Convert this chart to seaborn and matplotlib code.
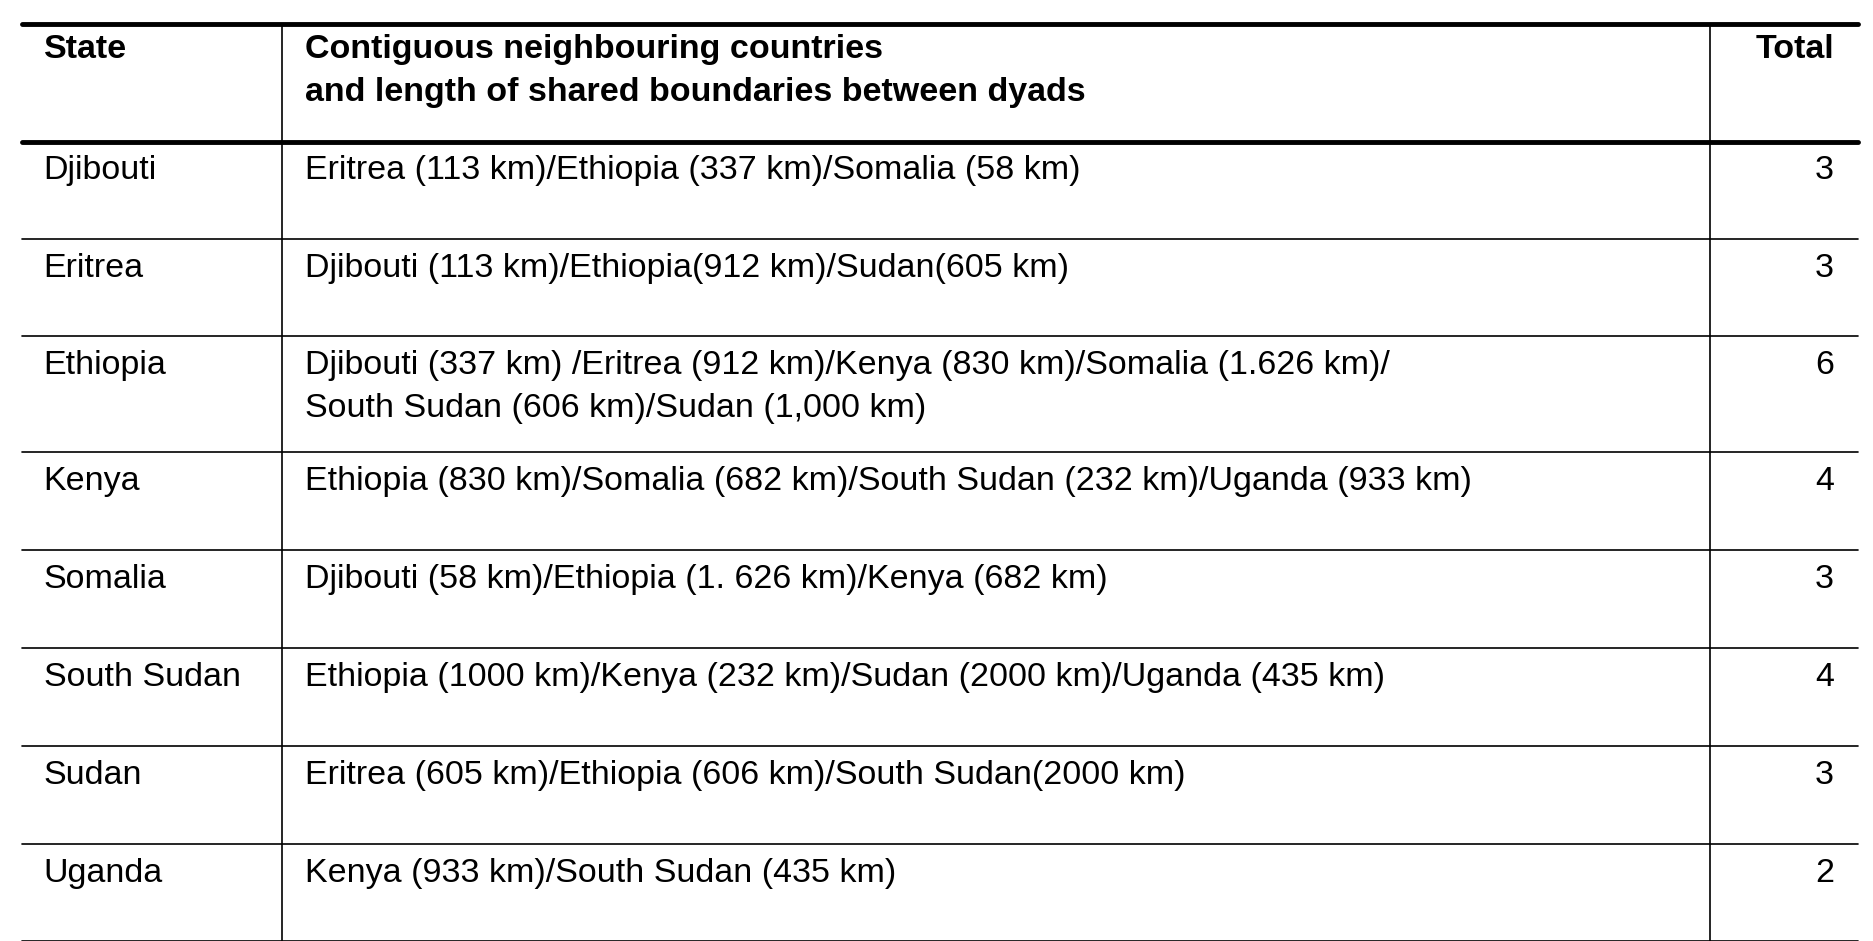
import matplotlib
matplotlib.use("Agg")
import matplotlib.pyplot as plt
import seaborn as sns

sns.set_theme(style="white")
plt.rcParams['font.family'] = ['Liberation Sans Narrow', 'Liberation Sans', 'DejaVu Sans']

headers = ["State", "Contiguous neighbouring countries\nand length of shared boundaries between dyads", "Total"]
states = ["Djibouti", "Eritrea", "Ethiopia", "Kenya", "Somalia", "South Sudan", "Sudan", "Uganda"]
neighbours = [
    "Eritrea (113 km)/Ethiopia (337 km)/Somalia (58 km)",
    "Djibouti (113 km)/Ethiopia(912 km)/Sudan(605 km)",
    "Djibouti (337 km) /Eritrea (912 km)/Kenya (830 km)/Somalia (1.626 km)/\nSouth Sudan (606 km)/Sudan (1,000 km)",
    "Ethiopia (830 km)/Somalia (682 km)/South Sudan (232 km)/Uganda (933 km)",
    "Djibouti (58 km)/Ethiopia (1. 626 km)/Kenya (682 km)",
    "Ethiopia (1000 km)/Kenya (232 km)/Sudan (2000 km)/Uganda (435 km)",
    "Eritrea (605 km)/Ethiopia (606 km)/South Sudan(2000 km)",
    "Kenya (933 km)/South Sudan (435 km)",
]
totals = [3, 3, 6, 4, 3, 4, 3, 2]

fig = plt.figure(figsize=(18.74, 9.41), dpi=100)
ax = fig.add_axes([0, 0, 1, 1])
ax.set_xlim(0, 1550)
ax.set_ylim(778, 0)
ax.axis("off")

L, R = 18, 1537
c1, c2 = 233, 1414
top, hb = 20, 117
rows = [117, 198, 278, 374, 455, 536, 617, 698, 778]

ax.plot([L, R], [top, top], color="black", lw=3.5)
ax.plot([L, R], [hb, hb], color="black", lw=3.5)
for y in rows[1:]:
    ax.plot([L, R], [y, y], color="black", lw=1.2)
for x in (c1, c2):
    ax.plot([x, x], [top, rows[-1]], color="black", lw=1.2)

fs = 24.5
lsp = 1.5
ax.text(36, 28, headers[0], fontsize=fs, fontweight="bold", va="top", color="black")
ax.text(252, 28, headers[1], fontsize=fs, fontweight="bold", va="top", linespacing=lsp, color="black")
ax.text(1517, 28, headers[2], fontsize=fs, fontweight="bold", va="top", ha="right", color="black")

for i, (s, n, t) in enumerate(zip(states, neighbours, totals)):
    y = rows[i] + 11
    ax.text(36, y, s, fontsize=fs, va="top", color="black")
    ax.text(252, y, n, fontsize=fs, va="top", linespacing=lsp, color="black")
    ax.text(1517, y, str(t), fontsize=fs, va="top", ha="right", color="black")

fig.savefig("out.png", dpi=100, facecolor="white")
